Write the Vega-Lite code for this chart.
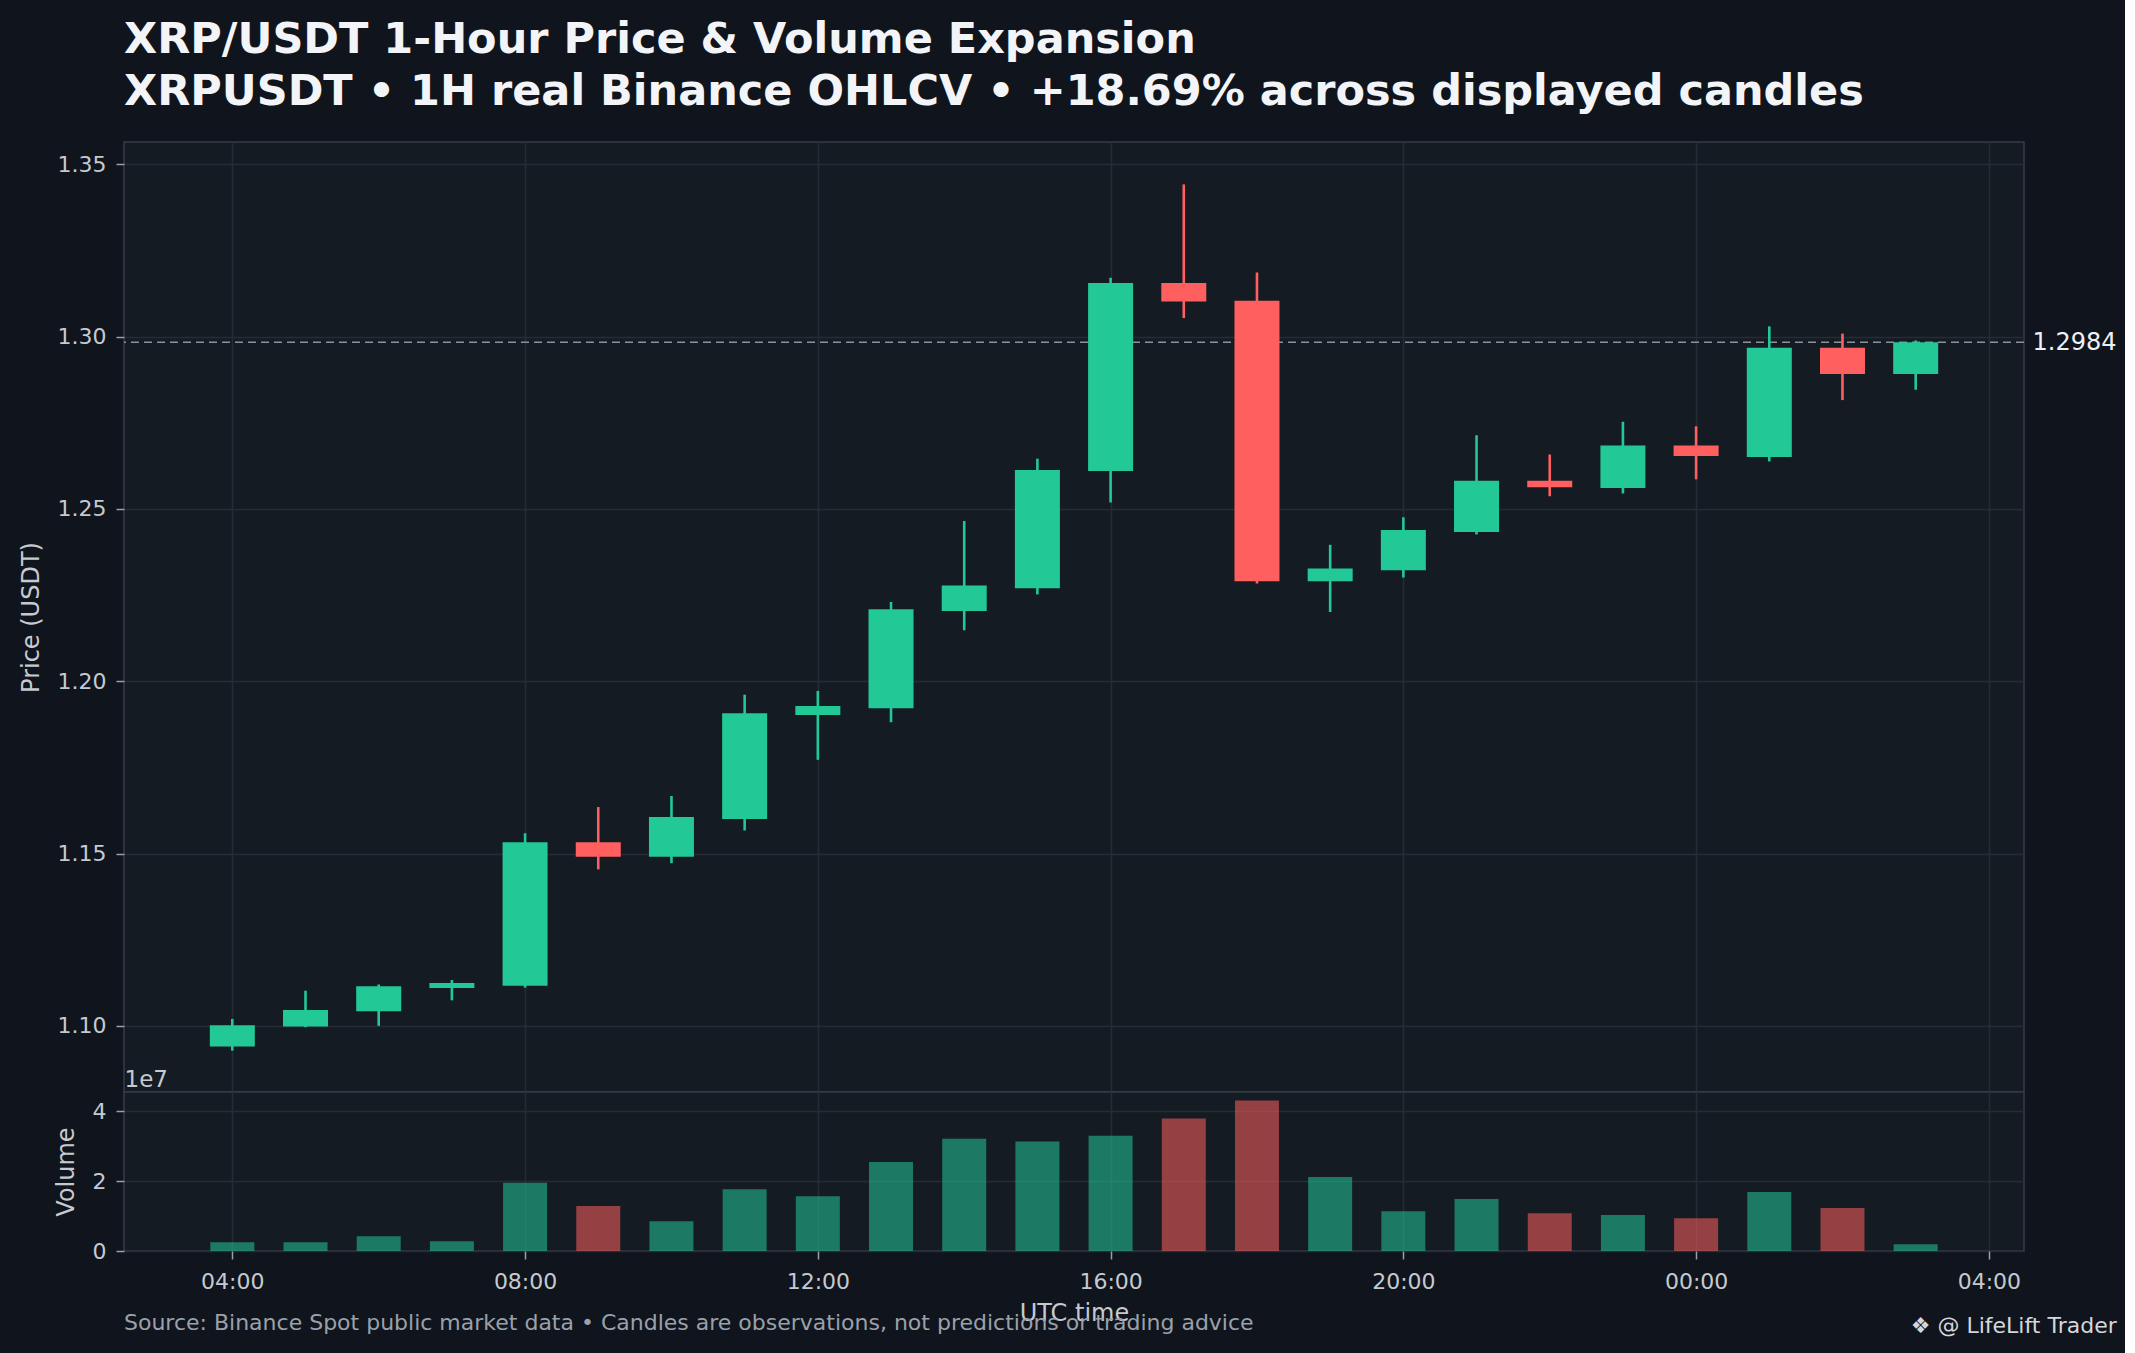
{
  "$schema": "https://vega.github.io/schema/vega-lite/v6.json",
  "background": "#10141c",
  "padding": {"left": 18, "top": 18, "right": 8, "bottom": 30},
  "autosize": {"type": "pad"},
  "datasets": {
    "candles": [
      {"t": "2025-01-01T04:00:00Z", "open": 1.0940, "high": 1.1020, "low": 1.0928, "close": 1.1002, "volume": 2500000},
      {"t": "2025-01-01T05:00:00Z", "open": 1.0998, "high": 1.1102, "low": 1.0996, "close": 1.1046, "volume": 2500000},
      {"t": "2025-01-01T06:00:00Z", "open": 1.1042, "high": 1.1120, "low": 1.1000, "close": 1.1115, "volume": 4200000},
      {"t": "2025-01-01T07:00:00Z", "open": 1.1110, "high": 1.1133, "low": 1.1074, "close": 1.1124, "volume": 2800000},
      {"t": "2025-01-01T08:00:00Z", "open": 1.1116, "high": 1.1559, "low": 1.1111, "close": 1.1533, "volume": 19500000},
      {"t": "2025-01-01T09:00:00Z", "open": 1.1533, "high": 1.1635, "low": 1.1454, "close": 1.1491, "volume": 12900000},
      {"t": "2025-01-01T10:00:00Z", "open": 1.1491, "high": 1.1667, "low": 1.1472, "close": 1.1606, "volume": 8500000},
      {"t": "2025-01-01T11:00:00Z", "open": 1.1600, "high": 1.1961, "low": 1.1567, "close": 1.1907, "volume": 17700000},
      {"t": "2025-01-01T12:00:00Z", "open": 1.1902, "high": 1.1972, "low": 1.1772, "close": 1.1928, "volume": 15700000},
      {"t": "2025-01-01T13:00:00Z", "open": 1.1922, "high": 1.2230, "low": 1.1881, "close": 1.2209, "volume": 25500000},
      {"t": "2025-01-01T14:00:00Z", "open": 1.2204, "high": 1.2465, "low": 1.2148, "close": 1.2278, "volume": 32100000},
      {"t": "2025-01-01T15:00:00Z", "open": 1.2270, "high": 1.2646, "low": 1.2252, "close": 1.2613, "volume": 31300000},
      {"t": "2025-01-01T16:00:00Z", "open": 1.2610, "high": 1.3171, "low": 1.2519, "close": 1.3156, "volume": 33000000},
      {"t": "2025-01-01T17:00:00Z", "open": 1.3156, "high": 1.3442, "low": 1.3054, "close": 1.3102, "volume": 37900000},
      {"t": "2025-01-01T18:00:00Z", "open": 1.3104, "high": 1.3186, "low": 1.2284, "close": 1.2290, "volume": 43100000},
      {"t": "2025-01-01T19:00:00Z", "open": 1.2290, "high": 1.2396, "low": 1.2201, "close": 1.2327, "volume": 21200000},
      {"t": "2025-01-01T20:00:00Z", "open": 1.2322, "high": 1.2476, "low": 1.2301, "close": 1.2439, "volume": 11400000},
      {"t": "2025-01-01T21:00:00Z", "open": 1.2433, "high": 1.2714, "low": 1.2426, "close": 1.2582, "volume": 14900000},
      {"t": "2025-01-01T22:00:00Z", "open": 1.2582, "high": 1.2658, "low": 1.2537, "close": 1.2563, "volume": 10800000},
      {"t": "2025-01-01T23:00:00Z", "open": 1.2561, "high": 1.2753, "low": 1.2545, "close": 1.2684, "volume": 10300000},
      {"t": "2025-01-02T00:00:00Z", "open": 1.2684, "high": 1.2740, "low": 1.2586, "close": 1.2654, "volume": 9400000},
      {"t": "2025-01-02T01:00:00Z", "open": 1.2651, "high": 1.3030, "low": 1.2638, "close": 1.2968, "volume": 16900000},
      {"t": "2025-01-02T02:00:00Z", "open": 1.2968, "high": 1.3009, "low": 1.2816, "close": 1.2892, "volume": 12300000},
      {"t": "2025-01-02T03:00:00Z", "open": 1.2892, "high": 1.2989, "low": 1.2846, "close": 1.2984, "volume": 1900000}
    ],
    "last": [{"price": 1.2984}]
  },
  "title": {
    "text": "❖ @ LifeLift Trader",
    "orient": "bottom",
    "anchor": "end",
    "fontSize": 22,
    "fontWeight": "normal",
    "color": "#d3d7dd",
    "offset": 0,
    "dy": -19
  },
  "vconcat": [
    {
      "width": 1900,
      "height": 950,
      "title": {
        "text": ["XRP/USDT 1-Hour Price & Volume Expansion", "XRPUSDT • 1H real Binance OHLCV • +18.69% across displayed candles"],
        "anchor": "start",
        "frame": "group",
        "fontSize": 43,
        "lineHeight": 52,
        "fontWeight": "bold",
        "color": "#f2f4f7",
        "offset": 28
      },
      "layer": [
        {
          "data": {"name": "last"},
          "mark": {"type": "rule", "strokeDash": [8, 5], "color": "#8b929c", "strokeWidth": 1.6},
          "encoding": {
            "y": {
              "field": "price",
              "type": "quantitative",
              "scale": {"domain": [1.0808, 1.3565], "nice": false, "zero": false},
              "axis": {"orient": "right", "values": [1.2984], "format": ".4f", "ticks": false, "grid": false, "labelColor": "#eef1f4", "labelFontSize": 24, "labelPadding": 8, "title": null}
            }
          }
        },
        {
          "data": {"name": "candles"},
          "mark": {"type": "rule", "strokeWidth": 2.6},
          "encoding": {
            "x": {
              "field": "t",
              "type": "temporal",
              "scale": {"type": "utc", "nice": false, "padding": 0, "domain": [
                {"year": 2025, "month": 1, "date": 1, "hours": 2, "minutes": 31, "seconds": 12, "utc": true},
                {"year": 2025, "month": 1, "date": 2, "hours": 4, "minutes": 28, "seconds": 48, "utc": true}
              ]},
              "axis": {
                "values": [
                  {"year": 2025, "month": 1, "date": 1, "hours": 4, "utc": true},
                  {"year": 2025, "month": 1, "date": 1, "hours": 8, "utc": true},
                  {"year": 2025, "month": 1, "date": 1, "hours": 12, "utc": true},
                  {"year": 2025, "month": 1, "date": 1, "hours": 16, "utc": true},
                  {"year": 2025, "month": 1, "date": 1, "hours": 20, "utc": true},
                  {"year": 2025, "month": 1, "date": 2, "hours": 0, "utc": true},
                  {"year": 2025, "month": 1, "date": 2, "hours": 4, "utc": true}
                ],
                "labels": false,
                "ticks": false,
                "grid": true,
                "title": "1e7",
                "titleX": 0,
                "titleY": -6,
                "titleAlign": "left",
                "titleAnchor": "start",
                "titleBaseline": "alphabetic",
                "titleFontSize": 23
              }
            },
            "y": {"field": "low", "type": "quantitative", "axis": null},
            "y2": {"field": "high"},
            "color": {"condition": {"test": "datum.close >= datum.open", "value": "#22c997"}, "value": "#ff5f5f"}
          }
        },
        {
          "data": {"name": "candles"},
          "mark": {"type": "bar", "width": 45},
          "encoding": {
            "x": {"field": "t", "type": "temporal"},
            "y": {
              "field": "open",
              "type": "quantitative",
              "axis": {"orient": "left", "values": [1.10, 1.15, 1.20, 1.25, 1.30, 1.35], "format": ".2f", "title": "Price (USDT)", "grid": true}
            },
            "y2": {"field": "close"},
            "color": {"condition": {"test": "datum.close >= datum.open", "value": "#22c997"}, "value": "#ff5f5f"}
          }
        }
      ],
      "resolve": {"axis": {"y": "independent"}}
    },
    {
      "width": 1900,
      "height": 159,
      "title": {
        "text": "Source: Binance Spot public market data • Candles are observations, not predictions or trading advice",
        "orient": "bottom",
        "anchor": "start",
        "frame": "group",
        "fontSize": 22,
        "fontWeight": "normal",
        "color": "#9aa1ab",
        "offset": 0,
        "dy": -12
      },
      "data": {"name": "candles"},
      "mark": {"type": "bar", "width": 44, "opacity": 0.55},
      "encoding": {
        "x": {
          "field": "t",
          "type": "temporal",
          "scale": {"type": "utc", "nice": false, "padding": 0, "domain": [
            {"year": 2025, "month": 1, "date": 1, "hours": 2, "minutes": 31, "seconds": 12, "utc": true},
            {"year": 2025, "month": 1, "date": 2, "hours": 4, "minutes": 28, "seconds": 48, "utc": true}
          ]},
          "axis": {
            "values": [
              {"year": 2025, "month": 1, "date": 1, "hours": 4, "utc": true},
              {"year": 2025, "month": 1, "date": 1, "hours": 8, "utc": true},
              {"year": 2025, "month": 1, "date": 1, "hours": 12, "utc": true},
              {"year": 2025, "month": 1, "date": 1, "hours": 16, "utc": true},
              {"year": 2025, "month": 1, "date": 1, "hours": 20, "utc": true},
              {"year": 2025, "month": 1, "date": 2, "hours": 0, "utc": true},
              {"year": 2025, "month": 1, "date": 2, "hours": 4, "utc": true}
            ],
            "format": "%H:%M",
            "title": "UTC time",
            "grid": true,
            "labelPadding": 12,
            "titlePadding": 9
          }
        },
        "y": {
          "field": "volume",
          "type": "quantitative",
          "scale": {"domain": [0, 45500000], "nice": false},
          "axis": {"values": [0, 20000000, 40000000], "labelExpr": "format(datum.value / 1e7, 'd')", "title": "Volume", "grid": true}
        },
        "color": {"condition": {"test": "datum.close >= datum.open", "value": "#22c997"}, "value": "#ff5f5f"}
      }
    }
  ],
  "spacing": 0,
  "bounds": "flush",
  "config": {
    "font": "DejaVu Sans",
    "view": {"fill": "#151b23", "stroke": "#353c47", "strokeWidth": 1.5},
    "title": {"font": "DejaVu Sans"},
    "axis": {
      "labelFont": "DejaVu Sans",
      "labelFontSize": 22,
      "labelColor": "#c5cad1",
      "titleFont": "DejaVu Sans",
      "titleFontSize": 24,
      "titleFontWeight": "normal",
      "titleColor": "#c5cad1",
      "tickColor": "#9aa0a8",
      "tickSize": 8,
      "tickWidth": 1.5,
      "gridColor": "#252c36",
      "gridWidth": 1.5,
      "domain": false,
      "labelPadding": 10,
      "titlePadding": 14
    }
  }
}
